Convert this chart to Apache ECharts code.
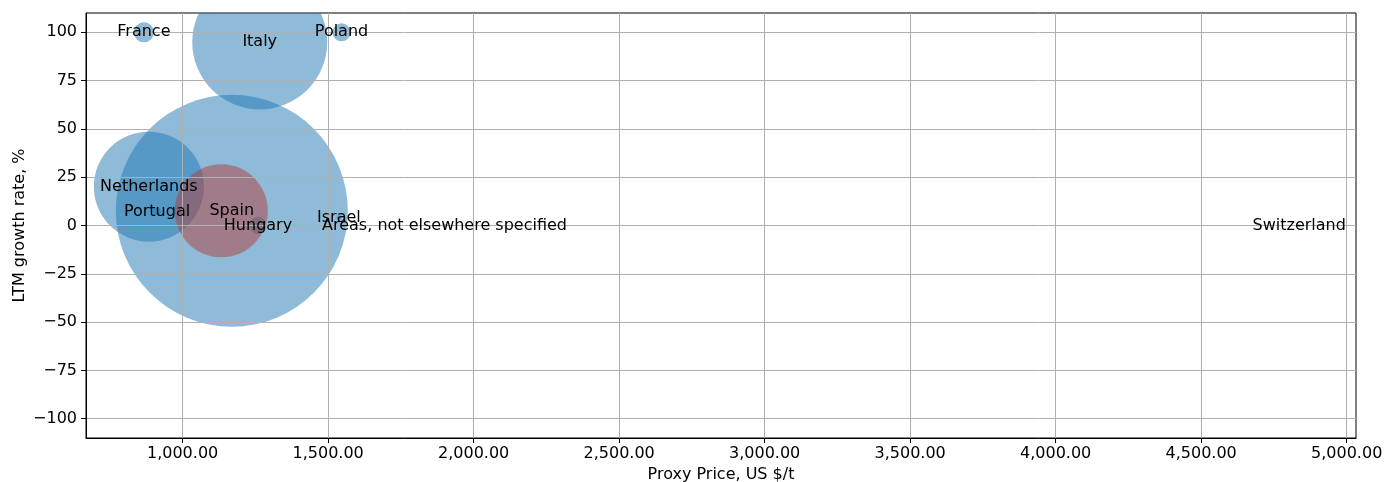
<!DOCTYPE html>
<html>
<head>
<meta charset="utf-8">
<script src="https://cdn.jsdelivr.net/npm/echarts@6/dist/echarts.min.js"></script>
<style>
html,body{margin:0;padding:0;background:#fff;}
#chart{width:1386px;height:482px;}
</style>
</head>
<body>
<div id="chart"></div>
<script>
// ---- data ----
const countries = ['France','Poland','Italy','Netherlands','Portugal','Spain','Hungary','Israel','Areas, not elsewhere specified','Switzerland'];
const proxyPrice = [867, 1546, 1265, 884, 912, 1169, 1259, 1537, 1900, 4837];
const growthRate = [100, 100, 95, 20.1, 7.2, 7.6, 0, 4.1, 0, 0];
const volume     = [100, 81, 4556, 3025, 16, 13456, 72, 6, 4, 2];

// highlighted bubble (drawn in red, no label)
const highlightPrice = [1133];
const highlightGrowth = [7.6];
const highlightVolume = [2162];

const xTicks = [1000,1500,2000,2500,3000,3500,4000,4500,5000];
const yTicks = [-100,-75,-50,-25,0,25,50,75,100];
const xRange = [668, 5032];
const yRange = [-110, 110];

const FONT = 'DejaVu Sans';

function bubbleSeries(name, xs, ys, vs, color, z) {
  return {
    type: 'custom', name: name, clip: true, z: z, silent: true,
    data: xs.map((x, i) => [x, ys[i], vs[i]]),
    encode: {x: 0, y: 1},
    renderItem: function (params, api) {
      const p = api.coord([api.value(0), api.value(1)]);
      const r = Math.sqrt(api.value(2));
      return {type: 'circle', shape: {cx: p[0], cy: p[1], r: r}, style: {fill: color}};
    }
  };
}

const chart = echarts.init(document.getElementById('chart'), null, {renderer: 'canvas'});
chart.setOption({
  animation: false,
  grid: {left: 86, right: 30, top: 13, bottom: 44, containLabel: false, outerBoundsMode: 'none',
         show: true, borderColor: '#000', borderWidth: 1, backgroundColor: 'transparent'},
  xAxis: {
    type: 'value', min: xRange[0], max: xRange[1], z: 3,
    name: 'Proxy Price, US $/t', nameLocation: 'middle', nameGap: 29, nameMoveOverlap: false,
    nameTextStyle: {fontFamily: FONT, fontSize: 16, color: '#000'},
    axisLine: {show: true, onZero: false, lineStyle: {color: '#000', width: 1}},
    axisTick: {show: true, inside: false, length: 5, customValues: xTicks, lineStyle: {color: '#000'}},
    axisLabel: {customValues: xTicks, margin: 8, fontFamily: FONT, fontSize: 16, color: '#000',
      formatter: v => v.toLocaleString('en-US', {minimumFractionDigits: 2, maximumFractionDigits: 2})},
    splitLine: {show: true, lineStyle: {color: '#b0b0b0', width: 1}}
  },
  yAxis: {
    type: 'value', min: yRange[0], max: yRange[1], z: 3,
    name: 'LTM growth rate, %', nameLocation: 'middle', nameGap: 58, nameRotate: 90, nameMoveOverlap: false,
    nameTextStyle: {fontFamily: FONT, fontSize: 16, color: '#000'},
    axisLine: {show: true, onZero: false, lineStyle: {color: '#000', width: 1}},
    axisTick: {show: true, inside: false, length: 5, customValues: yTicks, lineStyle: {color: '#000'}},
    axisLabel: {customValues: yTicks, margin: 9, fontFamily: FONT, fontSize: 16, color: '#000',
      formatter: v => v < 0 ? '\u2212' + Math.abs(v) : String(v)},
    splitLine: {show: true, lineStyle: {color: '#b0b0b0', width: 1}}
  },
  series: [
    bubbleSeries('Countries', proxyPrice, growthRate, volume, 'rgba(31,119,180,0.5)', 1),
    bubbleSeries('Highlighted', highlightPrice, highlightGrowth, highlightVolume, 'rgba(178,60,58,0.5)', 2),
    {
      type: 'scatter', name: 'labels', z: 10, silent: true,
      symbol: 'circle', symbolSize: 1,
      itemStyle: {color: 'rgba(0,0,0,0)'},
      data: countries.map((c, i) => ({name: c, value: [proxyPrice[i], growthRate[i]]})),
      label: {show: true, position: 'inside', formatter: '{b}', fontFamily: FONT, fontSize: 16,
              color: '#000', opacity: 1, textBorderWidth: 0},
      labelLayout: {hideOverlap: false},
      emphasis: {disabled: true}
    }
  ]
});
</script>
</body>
</html>
